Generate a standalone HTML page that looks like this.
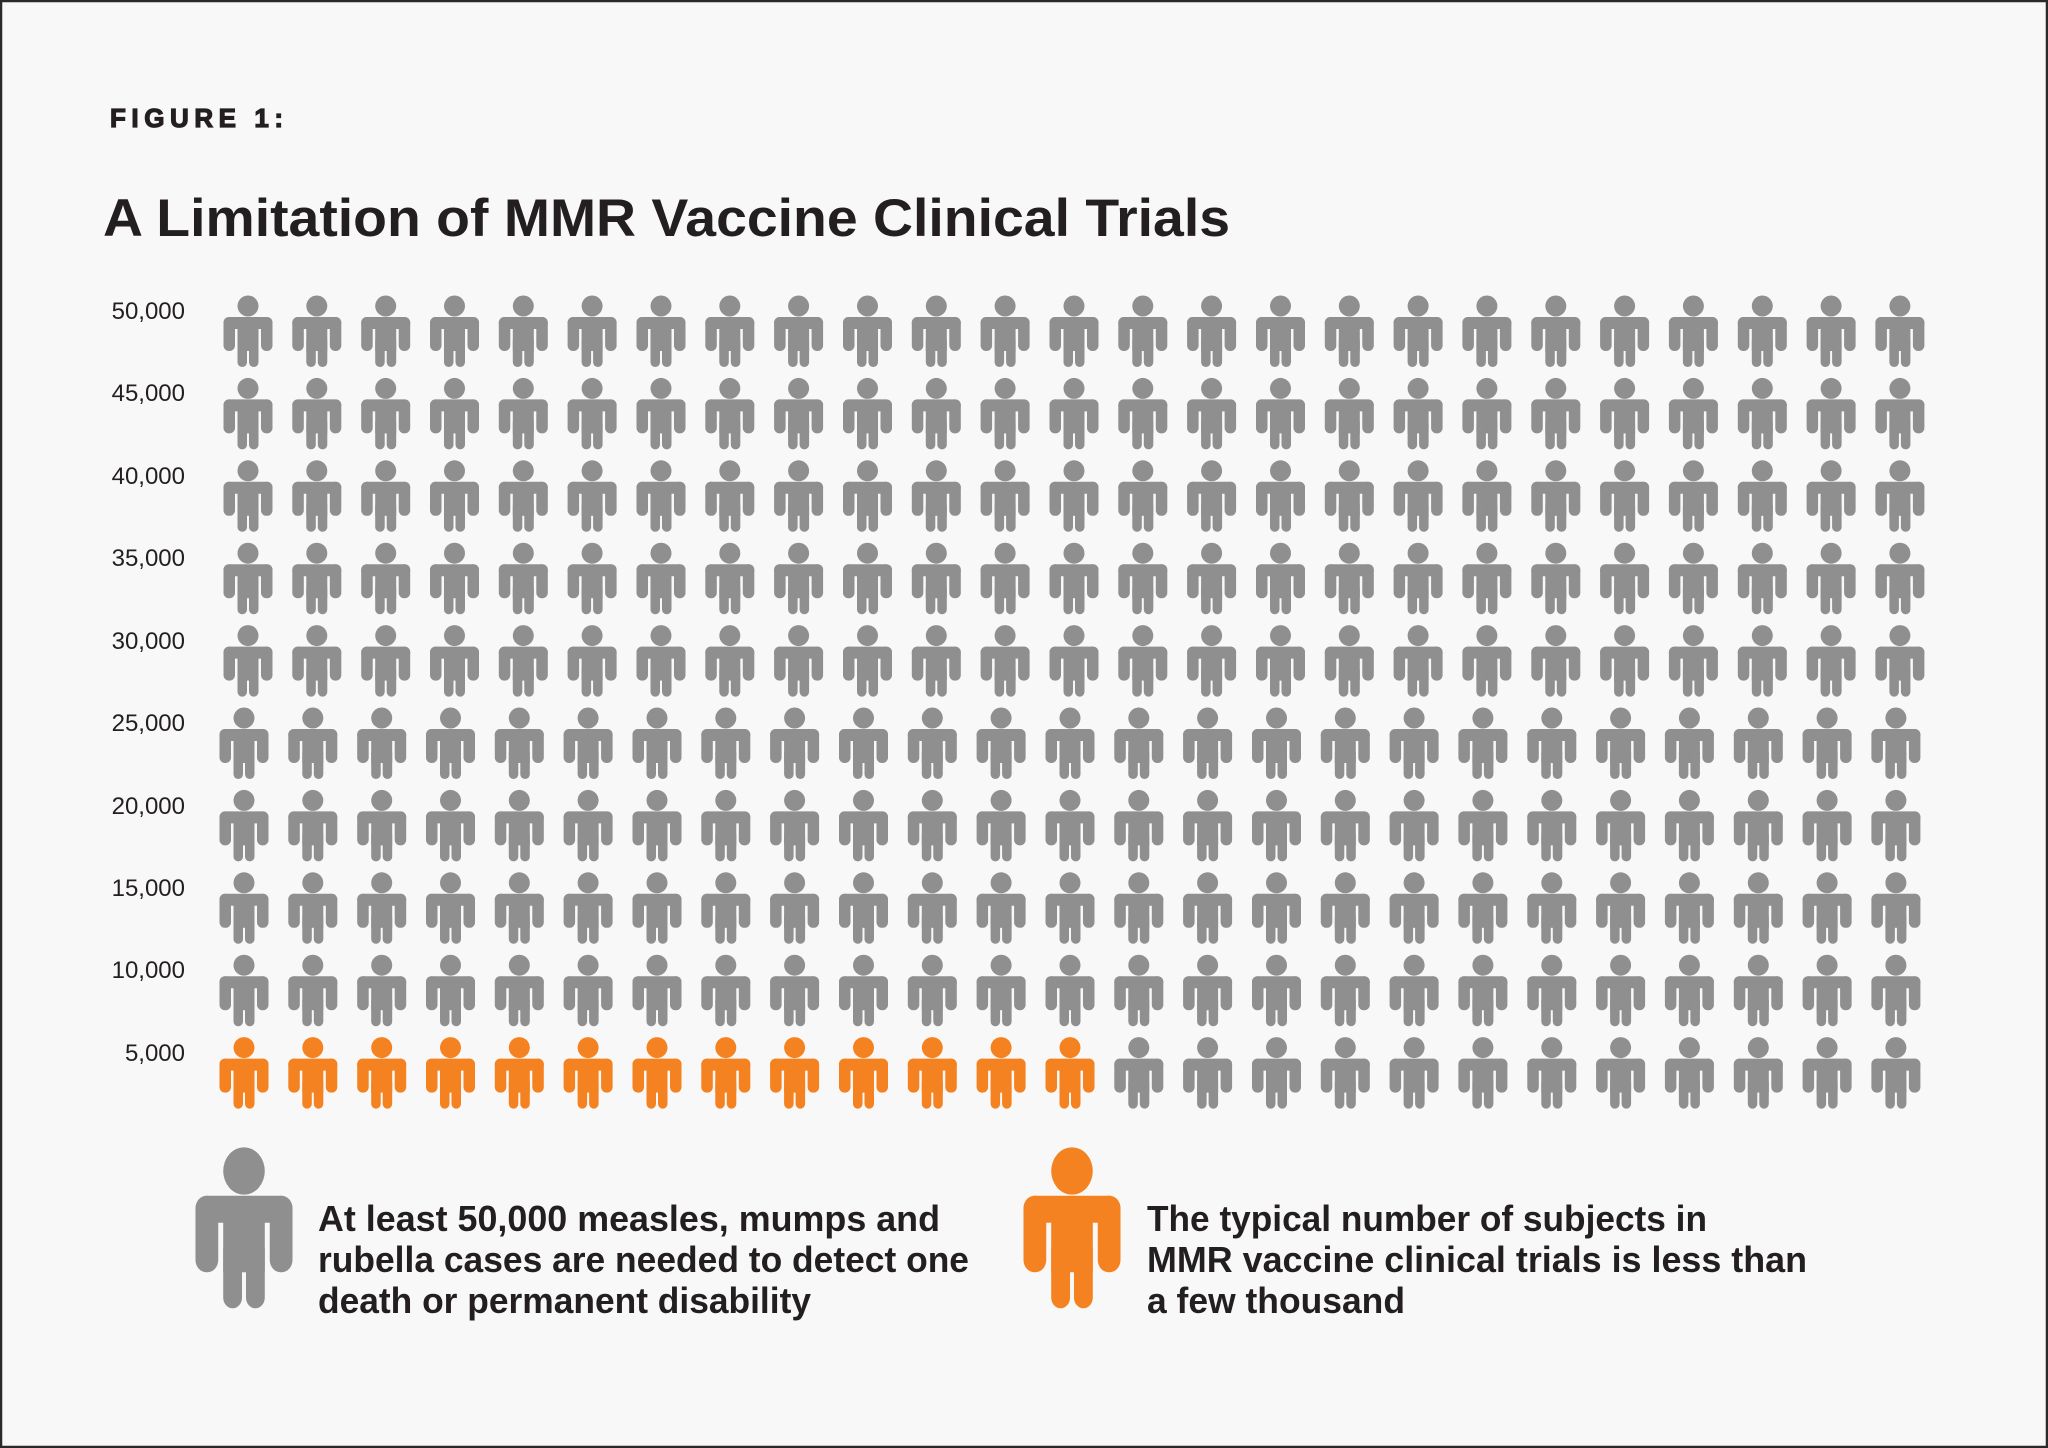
<!DOCTYPE html>
<html><head><meta charset="utf-8"><style>
html,body{margin:0;padding:0;background:#f8f8f8}
svg{display:block}
</style></head><body>
<svg width="2048" height="1448" viewBox="0 0 2048 1448" xmlns="http://www.w3.org/2000/svg">
<defs>
<g id="p">
<circle cx="0" cy="0" r="10.5"/>
<rect x="-24.5" y="11" width="49" height="12" rx="6"/>
<rect x="-24.5" y="11" width="11.5" height="34" rx="5.5"/>
<rect x="13" y="11" width="11.5" height="34" rx="5.5"/>
<rect x="-10.5" y="15" width="21" height="30"/>
<rect x="-10.5" y="30" width="9.5" height="31" rx="4.7"/>
<rect x="1" y="30" width="9.5" height="31" rx="4.7"/>
</g>
</defs>
<rect x="1" y="1" width="2046" height="1446" fill="#f8f8f8" stroke="#2a2a2a" stroke-width="2.5"/>
<text x="110" y="127" font-family="Liberation Sans, sans-serif" font-weight="bold" font-size="26" fill="#231f20" stroke="#231f20" stroke-width="1.2" textLength="173" lengthAdjust="spacing">FIGURE 1:</text>
<text x="103" y="236" font-family="Liberation Sans, sans-serif" font-weight="bold" font-size="53" fill="#231f20" textLength="1127" lengthAdjust="spacingAndGlyphs">A Limitation of MMR Vaccine Clinical Trials</text>
<g font-family="Liberation Sans, sans-serif" font-size="24" fill="#231f20" text-anchor="end">
<text x="185" y="319">50,000</text>
<text x="185" y="401">45,000</text>
<text x="185" y="484">40,000</text>
<text x="185" y="566">35,000</text>
<text x="185" y="649">30,000</text>
<text x="185" y="731">25,000</text>
<text x="185" y="814">20,000</text>
<text x="185" y="896">15,000</text>
<text x="185" y="978">10,000</text>
<text x="185" y="1061">5,000</text>
</g>
<g fill="#8f8f8f" transform="translate(244,1171) scale(1.98,2.25)"><use href="#p"/></g>
<g fill="#f58220" transform="translate(1072,1171) scale(1.98,2.25)"><use href="#p"/></g>
<g font-family="Liberation Sans, sans-serif" font-weight="bold" font-size="36" fill="#231f20">
<text x="318" y="1231" textLength="622" lengthAdjust="spacingAndGlyphs">At least 50,000 measles, mumps and</text>
<text x="318" y="1272" textLength="651" lengthAdjust="spacingAndGlyphs">rubella cases are needed to detect one</text>
<text x="318" y="1313" textLength="493" lengthAdjust="spacingAndGlyphs">death or permanent disability</text>
<text x="1147" y="1231" textLength="560" lengthAdjust="spacingAndGlyphs">The typical number of subjects in</text>
<text x="1147" y="1272" textLength="660" lengthAdjust="spacingAndGlyphs">MMR vaccine clinical trials is less than</text>
<text x="1147" y="1313" textLength="258" lengthAdjust="spacingAndGlyphs">a few thousand</text>
</g>
<g id="icons">
</g>
<script>
var g=document.getElementById('icons');var ns='http://www.w3.org/2000/svg';
for(var r=0;r<10;r++){for(var c=0;c<25;c++){
var x=(r<5?248:244)+c*68.83;var y=306+r*82.4;
var u=document.createElementNS(ns,'use');u.setAttribute('href','#p');
u.setAttribute('transform','translate('+x.toFixed(1)+','+y.toFixed(1)+')');
u.setAttribute('fill',(r==9&&c<13)?'#f58220':'#8f8f8f');g.appendChild(u);}}
</script>
</svg>
</body></html>
